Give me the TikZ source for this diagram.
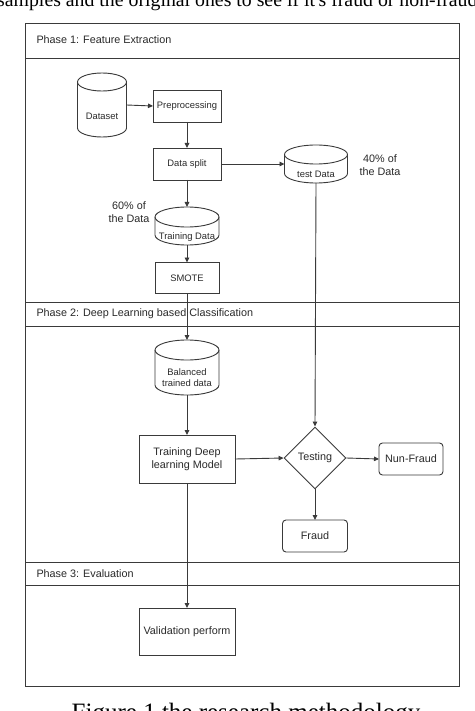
\documentclass[tikz,border=0pt]{standalone}
\usepackage{fontspec}
\setmainfont{Liberation Sans}
\newfontfamily\seriffam{Liberation Serif}
\usetikzlibrary{shapes.geometric,arrows.meta}
\definecolor{ln}{HTML}{3A3A3A}
\definecolor{tx}{HTML}{2A2A2A}
\tikzset{
  line/.style={draw=ln, line width=0.9pt},
  arr/.style={line, -{Triangle[length=5pt,width=4.5pt]}},
  small/.style={font=\fontsize{9.4}{11}\selectfont, text=tx},
  big/.style={font=\fontsize{10.8}{13}\selectfont, text=tx},
  box/.style={line, rectangle, inner sep=0pt, outer sep=0pt},
  rbox/.style={line, rectangle, rounded corners=3.5pt, inner sep=0pt, outer sep=0pt},
  cylbox/.style={rectangle, inner sep=0pt, outer sep=0pt},
  phase/.style={big, anchor=west},
  pagetext/.style={inner sep=0pt, font=\seriffam\fontsize{19.8}{22}\selectfont},
  captext/.style={inner sep=0pt, font=\seriffam\fontsize{25}{28}\selectfont},
}
\newcommand\cyldraw[3]{%
  \draw[line] ([yshift=-#3]#1.north west) -- ([yshift=#3]#1.south west)
     arc[start angle=180,end angle=360,x radius=#2,y radius=#3]
     -- ([yshift=-#3]#1.north east);
  \draw[line] ([yshift=-#3]#1.north) ellipse[x radius=#2,y radius=#3];
}
\begin{document}
\begin{tikzpicture}[x=1pt,y=-1pt]
\useasboundingbox (0,0) rectangle (474,711);
\fill[white] (0,0) rectangle (474,711);
\clip (0,0) rectangle (474,711);
% page text fragments
\node[pagetext, anchor=base west] (topline) at (-3,7) {samples and the original ones to see if it's fraud or non-fraud};
\node[captext, anchor=base] (caption) at (246,720.5) {Figure 1 the research methodology};
% frame and phase bands
\draw[line] (25,23) rectangle (459,686);
\draw[line] (25,58) -- (459,58);
\draw[line] (25,302) -- (459,302);
\draw[line] (25,326) -- (459,326);
\draw[line] (25,562) -- (459,562);
\draw[line] (25,585) -- (459,585);
\node[phase] (p1) at (33,40) {Phase 1: Feature Extraction};
\node[phase] (p2) at (33,314) {Phase 2: Deep Learning based Classification};
\node[phase] (p3) at (33,574) {Phase 3: Evaluation};
% cylinders
\node[cylbox, minimum width=49pt, minimum height=64pt] (dataset) at (102,105) {};
\cyldraw{dataset}{24.5pt}{9pt}
\node[small] (datasetT) at (102,116) {Dataset};
\node[cylbox, minimum width=63pt, minimum height=38pt] (test) at (316,164) {};
\cyldraw{test}{31.5pt}{9.5pt}
\node[small] (testT) at (316,174) {test Data};
\node[cylbox, minimum width=64pt, minimum height=38pt] (train) at (187,226) {};
\cyldraw{train}{32pt}{10pt}
\node[small] (trainT) at (187,237) {Training Data};
\node[cylbox, minimum width=64pt, minimum height=55pt] (bal) at (187,367.5) {};
\cyldraw{bal}{32pt}{10pt}
\node[small, align=center] (balT) at (187,378) {Balanced\\trained data};
% boxes
\node[box, small, minimum width=68pt, minimum height=32pt] (pre) at (187,106) {Preprocessing};
\node[box, small, minimum width=68pt, minimum height=32pt] (split) at (187,164) {Data split};
\node[box, small, minimum width=64pt, minimum height=31pt] (smote) at (187,278) {SMOTE};
\node[box, big, align=center, minimum width=96pt, minimum height=48pt] (model) at (187,459) {Training Deep\\learning Model};
\node[line, diamond, big, aspect=1, inner sep=0pt, minimum width=62pt, minimum height=62pt] (testing) at (315,458) {Testing};
\node[rbox, big, minimum width=64pt, minimum height=32pt] (nun) at (411,459) {Nun-Fraud};
\node[rbox, big, minimum width=65pt, minimum height=32pt] (fraud) at (315,536) {Fraud};
\node[box, big, minimum width=96pt, minimum height=47pt] (valid) at (187,631.5) {Validation perform};
% side labels
\node[big, align=center] (l60) at (129,212) {60\% of\\the Data};
\node[big, align=center] (l40) at (380,165) {40\% of\\the Data};
% connectors
\draw[arr] (dataset.east) -- (pre.west);
\draw[arr] (pre.south) -- (split.north);
\draw[arr] (split.east) -- (test.west);
\draw[arr] (split.south) -- (train.north);
\draw[arr] (train.south) -- (smote.north);
\draw[arr] (smote.south) -- (bal.north);
\draw[arr] (bal.south) -- (model.north);
\draw[arr] (model.east) -- (testing.west);
\draw[arr] (test.south) -- (testing.north);
\draw[arr] (testing.east) -- (nun.west);
\draw[arr] (testing.south) -- (fraud.north);
\draw[arr] (model.south) -- (valid.north);
\end{tikzpicture}
\end{document}
